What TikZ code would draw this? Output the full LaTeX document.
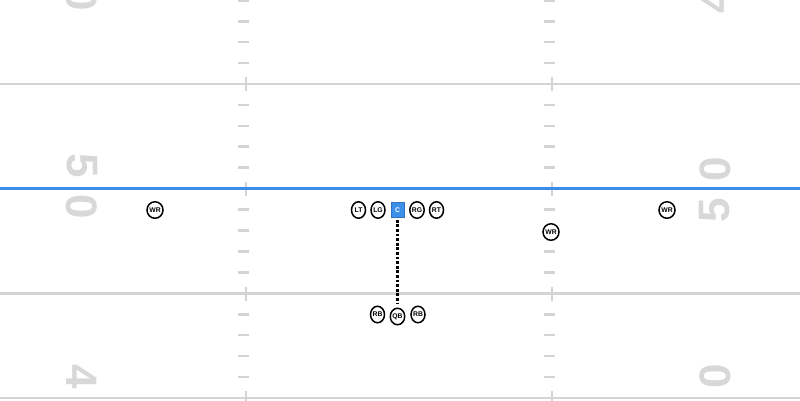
\documentclass[tikz,border=0pt]{standalone}
\usepackage{fontspec}
\setmainfont{Liberation Sans}
\usetikzlibrary{shapes.geometric}
\definecolor{linegray}{HTML}{D4D4D4}
\definecolor{numgray}{HTML}{D8D8D8}
\definecolor{scrimblue}{HTML}{3A8EE8}
\definecolor{cblue}{HTML}{3D90EA}
\begin{document}
\begin{tikzpicture}[x=1pt,y=-1pt,
  yardline/.style={draw=linegray, line width=2.6pt},
  hashm/.style={draw=linegray, line width=2.6pt},
  num/.style={text=numgray, font=\fontsize{44}{44}\selectfont\bfseries, inner sep=0pt},
  player/.style={ellipse, draw=black, line width=1.5pt, minimum width=14pt, minimum height=16.5pt, inner sep=0pt, fill=white, font=\fontsize{6.8}{6.8}\selectfont\bfseries},
  cbox/.style={rectangle, draw=cblue!80!black, line width=0.6pt, fill=cblue, text=white, minimum width=13pt, minimum height=15pt, inner sep=0pt, font=\fontsize{6.8}{6.8}\selectfont\bfseries},
  snapline/.style={draw=black, line width=3.2pt, dash pattern=on 2.8pt off 1.8pt, shorten <=2pt, shorten >=4pt}
]
\fill[white] (0,0) rectangle (800,400);
\useasboundingbox (0,0) rectangle (800,400);
\clip (0,0) rectangle (800,400);

% yard lines
\draw[yardline] (0,84) -- (800,84);
\draw[yardline] (0,293.5) -- (800,293.5);
\draw[yardline] (0,398) -- (800,398);
\draw[yardline] (0,188.7) -- (800,188.7);

% hash marks
\foreach \hx in {243,549}{
  \foreach \k in {-4,...,15}{
    \pgfmathsetmacro{\hy}{84+20.93*\k}
    \draw[hashm] (\hx-5.5,\hy) -- (\hx+5.5,\hy);
  }
  \foreach \yl in {84,188.7,293.5,398}{
    \draw[hashm, line width=2pt] (\hx+3,\yl-7) -- (\hx+3,\yl+7);
  }
}

% line of scrimmage
\draw[draw=scrimblue, line width=3pt] (0,188.7) -- (800,188.7);

% yard numbers (left, reading top to bottom)
\node[num, rotate=-90] (l40a) at (82,-43) {4};
\node[num, rotate=-90] (l40b) at (82,-1) {0};
\node[num, rotate=-90] (l50a) at (82,166) {5};
\node[num, rotate=-90] (l50b) at (82,207) {0};
\node[num, rotate=-90] (l40c) at (82,377) {4};
\node[num, rotate=-90] (l40d) at (82,419) {0};
% yard numbers (right, reading bottom to top)
\node[num, rotate=90] (r40a) at (715,1) {4};
\node[num, rotate=90] (r40b) at (715,-40) {0};
\node[num, rotate=90] (r50a) at (715,210) {5};
\node[num, rotate=90] (r50b) at (715,169) {0};
\node[num, rotate=90] (r40c) at (715,418) {4};
\node[num, rotate=90] (r40d) at (715,376) {0};

% players
\node[player] (wr1) at (155,210) {WR};
\node[player] (lt) at (358.5,210) {LT};
\node[player] (lg) at (378,210) {LG};
\node[cbox] (c) at (397.5,210) {C};
\node[player] (rg) at (417,210) {RG};
\node[player] (rt) at (436.5,210) {RT};
\node[player] (wr2) at (551,232) {WR};
\node[player] (wr3) at (667,210) {WR};
\node[player] (rb1) at (377.5,314.5) {RB};
\node[player] (qb) at (397.5,316.5) {QB};
\node[player] (rb2) at (418,314.5) {RB};

\draw[snapline] (c.south) -- (qb.north);
\end{tikzpicture}
\end{document}
